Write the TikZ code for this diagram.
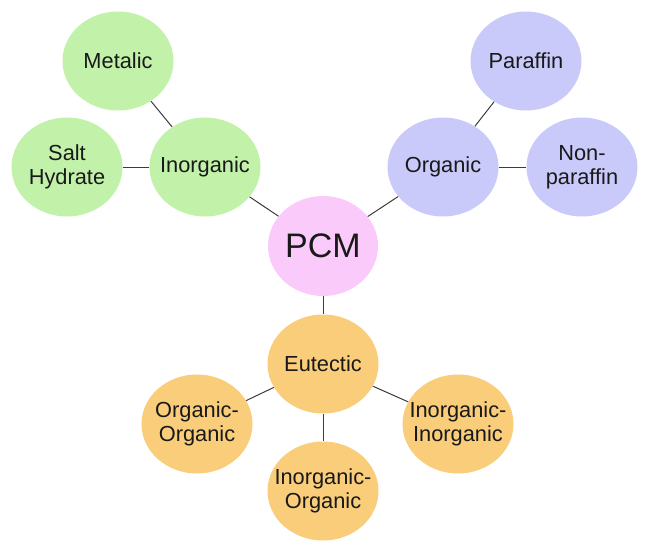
\documentclass[tikz,border=0pt]{standalone}
\usepackage{fontspec}
\setmainfont{Liberation Sans}
\usetikzlibrary{shapes.geometric}
\definecolor{grn}{RGB}{194,242,170}
\definecolor{lav}{RGB}{202,202,250}
\definecolor{pnk}{RGB}{250,202,250}
\definecolor{orn}{RGB}{249,205,122}
\definecolor{txt}{RGB}{25,25,25}
\definecolor{lnk}{RGB}{60,60,60}
\begin{document}
\begin{tikzpicture}[x=1pt, y=-1pt,
    blob/.style={ellipse, minimum width=111pt, minimum height=99pt, inner xsep=-16pt, inner ysep=0pt, align=center, text=txt, font=\fontsize{21.8}{24}\selectfont},
    inorg/.style={blob, fill=grn},
    org/.style={blob, fill=lav},
    eut/.style={blob, fill=orn},
    link/.style={draw=lnk, line width=1pt}]
        \useasboundingbox (0,0) rectangle (649,547);
        \node[blob, fill=pnk, minimum width=110pt, minimum height=100pt, font=\fontsize{34}{36}\selectfont] (pcm) at (323,246) {PCM};
        % inorganic side
        \node[inorg] (inorganic) at (205,167) {Inorganic};
        \node[inorg] (metalic) at (118,61) {Metalic};
        \node[inorg] (salt) at (67,167) {Salt\\Hydrate};
        % organic side
        \node[org] (organic) at (443,167) {Organic};
        \node[org] (paraffin) at (526,61) {Paraffin};
        \node[org] (nonpar) at (582,167) {Non-\\paraffin};
        % eutectic
        \node[eut] (eutectic) at (323,364) {Eutectic};
        \node[eut] (oo) at (197,424) {Organic-\\Organic};
        \node[eut] (io) at (323,491) {Inorganic-\\Organic};
        \node[eut] (ii) at (458,424) {Inorganic-\\Inorganic};

        \draw[link] (pcm) -- (inorganic);
        \draw[link] (pcm) -- (organic);
        \draw[link] (pcm) -- (eutectic);
        \draw[link] (inorganic) -- (metalic);
        \draw[link] (inorganic) -- (salt);
        \draw[link] (organic) -- (paraffin);
        \draw[link] (organic) -- (nonpar);
        \draw[link] (eutectic) -- (oo);
        \draw[link] (eutectic) -- (io);
        \draw[link] (eutectic) -- (ii);
    \end{tikzpicture}
\end{document}
